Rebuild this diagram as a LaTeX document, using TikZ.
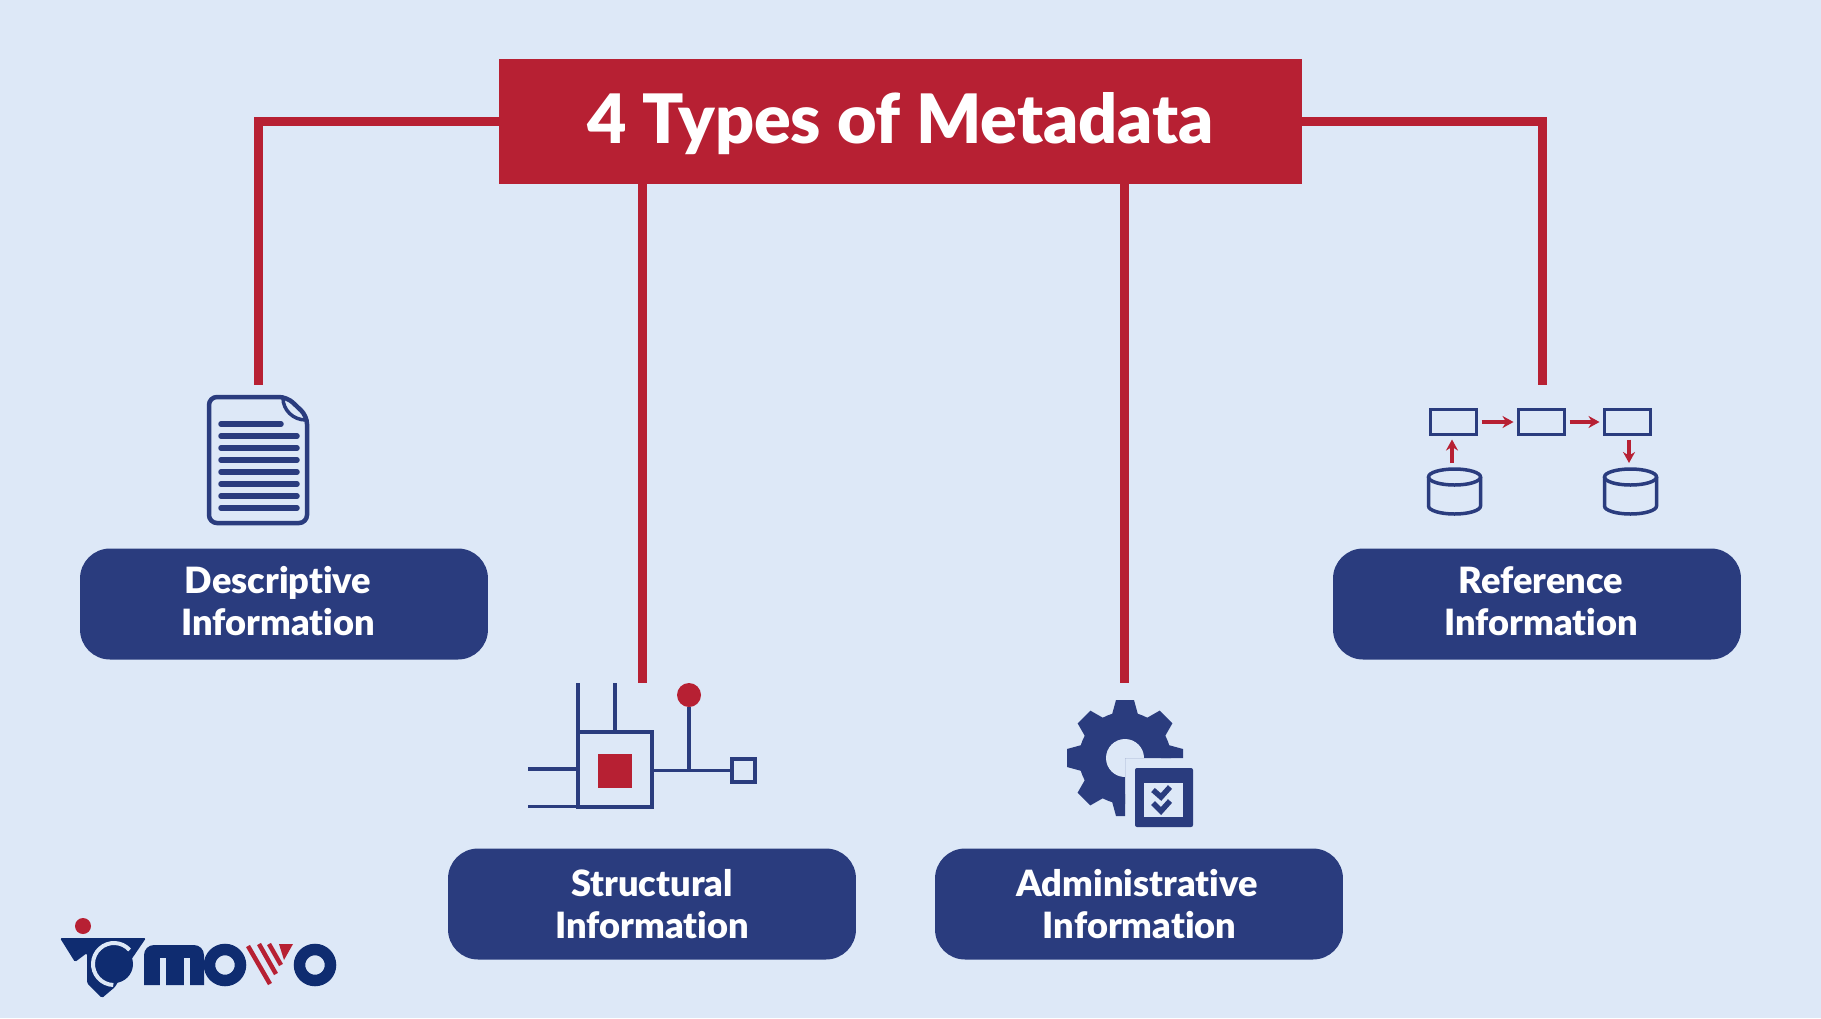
\documentclass[tikz,border=0pt]{standalone}
\usepackage{fontspec}
\setmainfont{Lato}[BoldFont={Lato Black},Ligatures=NoCommon]
\usetikzlibrary{arrows.meta}
\definecolor{pagebg}{HTML}{DDE8F7}
\definecolor{metared}{HTML}{B72033}
\definecolor{metablue}{HTML}{2A3C7E}
\definecolor{logoblue}{HTML}{0F2C70}
\tikzset{
	trunk/.style={draw=metared,line width=0.18cm},
	pill/.style={fill=metablue,rounded corners=0.6cm,minimum width=8.16cm,minimum height=2.22cm},
	pilltext/.style={text=white,font=\bfseries\fontsize{20.6}{24}\selectfont,align=center},
	iconline/.style={draw=metablue,line width=0.07cm,outer sep=0pt},
	redarrow/.style={draw=metared,line width=0.07cm,-{Stealth[length=0.22cm,width=0.24cm]},shorten >=0.1cm,shorten <=0.1cm},
	flowbox/.style={draw=metablue,line width=0.07cm,minimum width=0.92cm,minimum height=0.5cm,inner sep=0pt,outer sep=0pt},
	drum/.pic={
		\draw[iconline] (-26,-15) -- (-26,14) arc (180:0:26 and 8) -- (26,-15);
		\draw[iconline] (0,-15) ellipse (26 and 8);
	}
}
\begin{document}
\begin{tikzpicture}[x=0.02cm,y=-0.02cm]
	\fill[pagebg] (0,0) rectangle (1821,1018);
	\useasboundingbox (0,0) rectangle (1821,1018);

	\coordinate (descend) at (258,385);
	\coordinate (structend) at (642,683);
	\coordinate (adminend) at (1124,683);
	\coordinate (refend) at (1542,385);
	\draw[trunk] (499,121.5) -| (descend);
	\draw[trunk] (1302,121.5) -| (refend);
	\node[fill=metared,text=white,font=\bfseries\fontsize{38.8}{44}\selectfont,minimum width=16.06cm,minimum height=2.5cm,text depth=3.5pt] (title) at (900.5,121.5) {4 Types of Metadata};
	\draw[trunk] (title.south -| structend) -- (structend);
	\draw[trunk] (title.south -| adminend) -- (adminend);

	\node[pill] (descbox) at (284,604) {};
	\node[pill] (structbox) at (652,904) {};
	\node[pill] (adminbox) at (1139,904) {};
	\node[pill] (refbox) at (1537,604) {};
	\node[pilltext] (desclabel) at (278,601) {Descriptive\\Information};
	\node[pilltext] (structlabel) at (652,904) {Structural\\Information};
	\node[pilltext] (adminlabel) at (1137,904) {Administrative\\\hspace{3pt}Information};
	\node[pilltext] (reflabel) at (1541,601) {Reference\\Information};

	\draw[metablue,line width=0.09cm,rounded corners=0.16cm] (287,397) -- (209,397) -- (209,523) -- (307,523) -- (307,416) -- cycle;
	\draw[metablue,line width=0.07cm] (283,398) .. controls (283,410) and (293,420) .. (306,420);
	\foreach \y/\xe in {424/281,436/297,448/297,460/297,472/297,484/297,496/297,508/297}
		\draw[metablue,line width=0.11cm,line cap=round] (221,\y) -- (\xe,\y);

	\node[iconline,minimum width=1.48cm,minimum height=1.5cm,inner sep=0pt] (chip) at (615,769.5) {};
	\node[fill=metared,minimum size=0.68cm,inner sep=0pt] (core) at (615,771) {};
	\node[iconline,minimum size=0.46cm,inner sep=0pt] (port) at (743.5,770.5) {};
	\node[circle,fill=metared,minimum size=0.48cm,inner sep=0pt] (pin) at (689,695) {};
	\coordinate (leadup) at (578,683);
	\coordinate (leadmid) at (615,683);
	\coordinate (leadhigh) at (528,769);
	\coordinate (leadlow) at (528,806.5);
	\draw[iconline] (leadup) -- (leadup |- chip.north);
	\draw[iconline] (leadmid) -- (chip.north);
	\draw[iconline] (leadhigh) -- (leadhigh -| chip.west);
	\draw[iconline] (leadlow) -- (leadlow -| chip.west);
	\draw[iconline] (chip.east |- port.west) -- (port.west);
	\draw[iconline] (pin.south) -- (pin.south |- port.west);

	\begin{scope}
		\clip (1060,690) -- (1190,690) -- (1190,758) -- (1125,758) -- (1125,830) -- (1060,830) -- cycle;
		\fill[metablue] (1125,758) circle (46);
		\foreach \a in {0,45,...,315}
			\fill[metablue,rotate around={\a:(1125,758)}] (1110,722) -- (1116,700) -- (1134,700) -- (1140,722) -- cycle;
		\fill[pagebg] (1125,758) circle (19);
	\end{scope}
	\fill[metablue,rounded corners=0.04cm] (1135,768) rectangle (1193,827);
	\fill[pagebg] (1144,783) rectangle (1183,817);
	\draw[metablue,line width=0.11cm] (1153,790) -- (1161,797) -- (1170,787);
	\draw[metablue,line width=0.11cm] (1153,803) -- (1161,811) -- (1170,801);

	\node[flowbox] (flowa) at (1453.5,422) {};
	\node[flowbox] (flowb) at (1541.5,422) {};
	\node[flowbox] (flowc) at (1627.5,422) {};
	\pic at (1454.5,492) {drum};
	\pic at (1630.5,492) {drum};
	\coordinate (drumleft) at (1452,468);
	\coordinate (drumright) at (1629,468);
	\draw[redarrow] (drumleft) -- (drumleft |- flowa.south);
	\draw[redarrow] (drumright |- flowc.south) -- (drumright);
	\draw[redarrow] (flowa) -- (flowb);
	\draw[redarrow] (flowb) -- (flowc);

	\coordinate (ringcentre) at (114,964);
	\fill[metared] (83,926) circle (8);
	\fill[logoblue,rounded corners=0.03cm] (60,938) -- (146,938) -- (131,960) -- (115,987) -- (102,998) -- (87,983) -- (87,953) -- (75,962) -- cycle;
	\fill[logoblue] (ringcentre) circle (19);
	\draw[pagebg,line width=0.08cm] (ringcentre) ++(-42:21) arc (-42:-268:21);
	\fill[logoblue] (144,985) [rounded corners=0.2cm] -- (144,945) -- (204,945) [sharp corners] -- (204,985) -- cycle;
	\draw[pagebg,line width=0.12cm] (163,985.5) -- (163,958);
	\draw[pagebg,line width=0.12cm] (187,985.5) -- (187,958);
	\draw[logoblue,line width=0.23cm] (225,965) circle (15.5);
	\draw[logoblue,line width=0.23cm] (315,965) circle (15.5);
	\draw[metared,line width=0.09cm] (248,946) -- (270,984);
	\draw[metared,line width=0.09cm] (259,944) -- (276,974);
	\draw[metared,line width=0.09cm] (269,944) -- (281,965);
	\fill[metared] (279,944) -- (293,944) -- (284,960) -- cycle;
\end{tikzpicture}
\end{document}
